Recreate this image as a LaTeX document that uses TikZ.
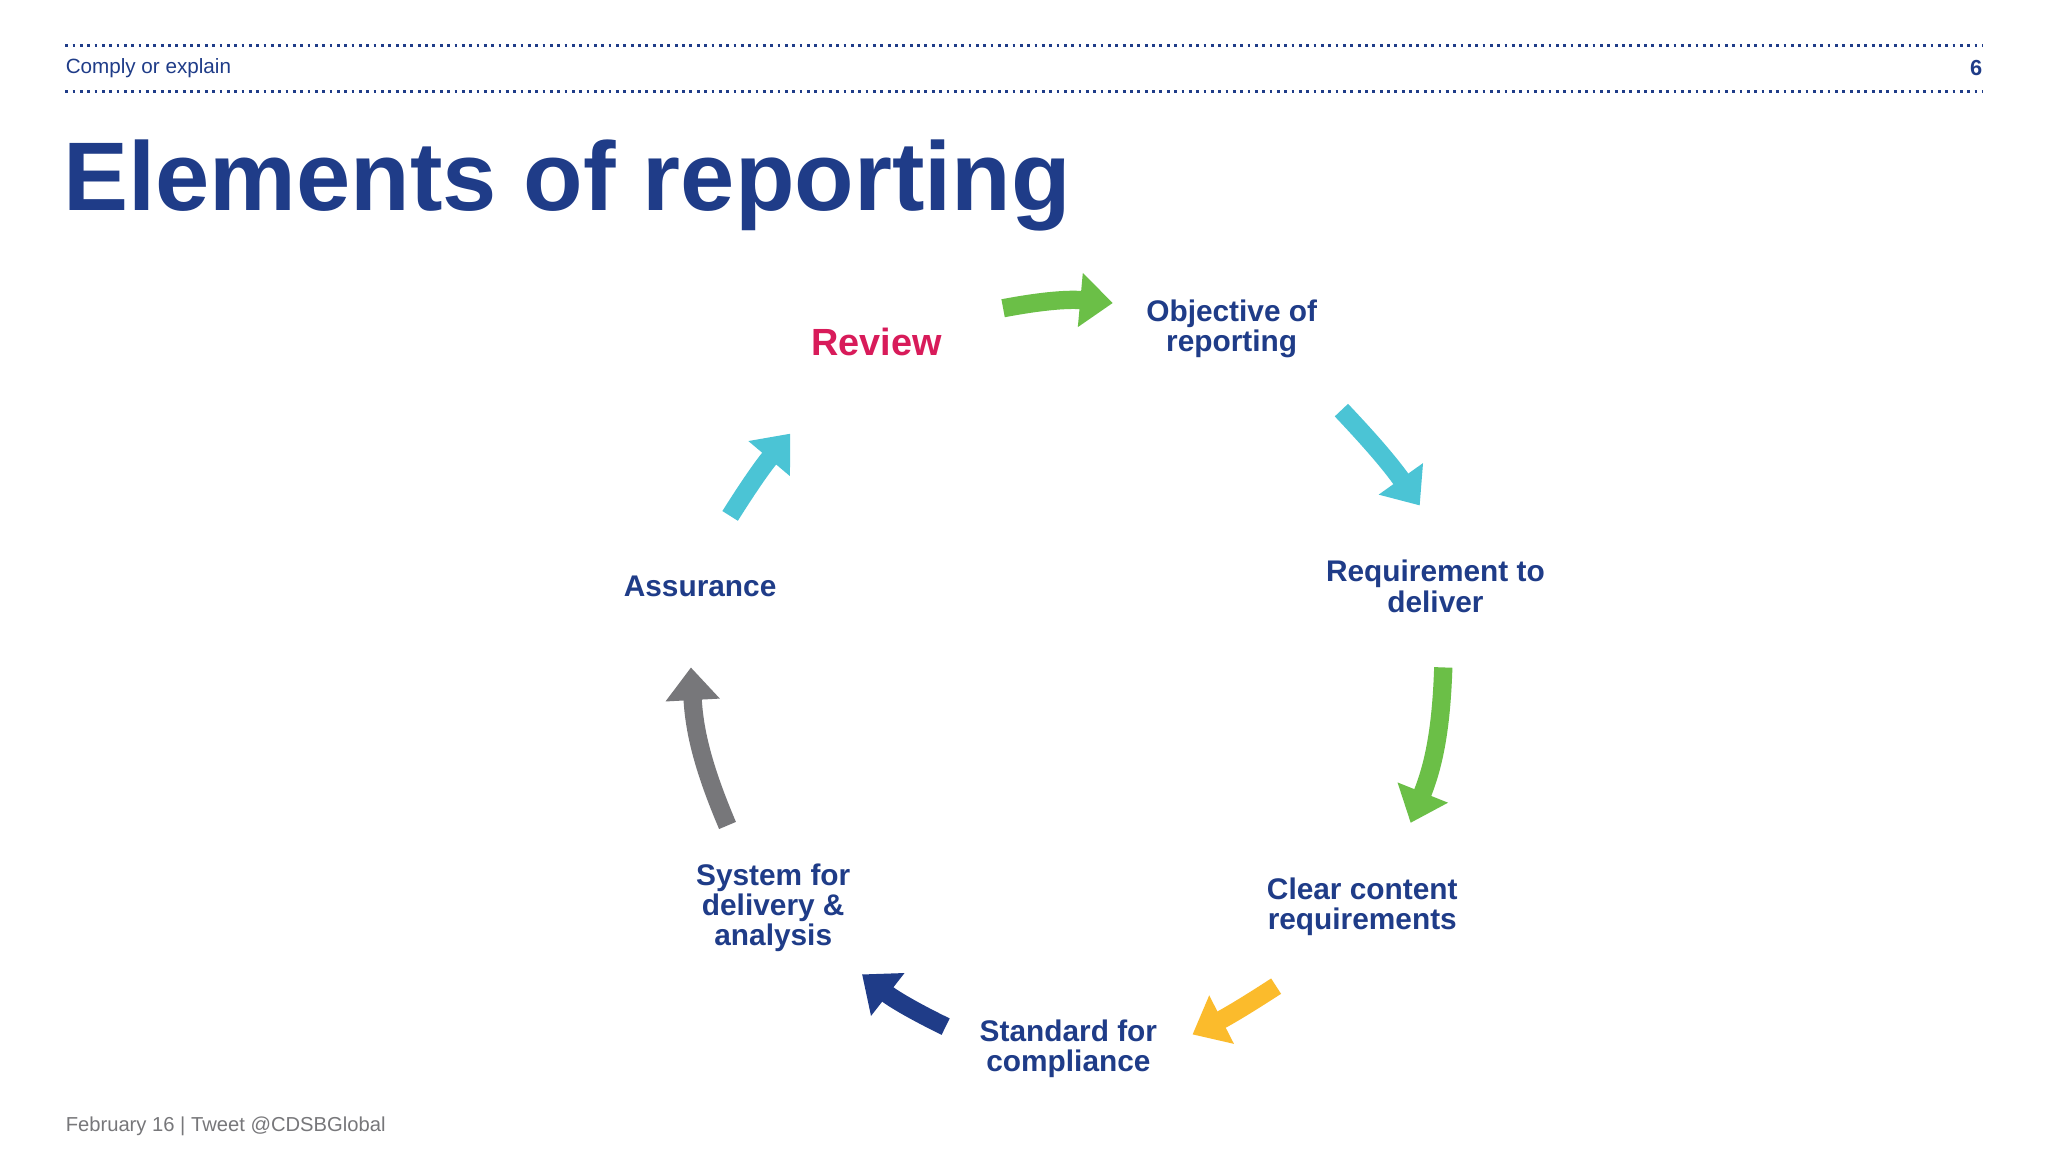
\documentclass[tikz,border=0pt]{standalone}
\usepackage{fontspec}
\setmainfont{Liberation Sans}
\usetikzlibrary{arrows.meta}
\definecolor{navy}{HTML}{1F3C88}
\definecolor{cgreen}{HTML}{6BBF47}
\definecolor{ccyan}{HTML}{4BC4D5}
\definecolor{cyellow}{HTML}{FBBB2C}
\definecolor{cgray}{HTML}{77777A}
\definecolor{crim}{HTML}{D81B5A}
\tikzset{
 lbl/.style={text=navy,font=\fontsize{13}{13.2}\selectfont\bfseries,align=center},
 cyc/.style={line width=0.28cm,-{Triangle[width=0.8cm,length=0.5cm]}},
}
\begin{document}
\begin{tikzpicture}[x=0.02cm,y=-0.02cm]
\useasboundingbox (0,0) rectangle (1568,882);
\fill[white] (0,0) rectangle (1568,882);
\coordinate (l1a) at (50,35); \coordinate (l1b) at (1518,35);
\coordinate (l2a) at (50,70); \coordinate (l2b) at (1518,70);
\draw[navy,line width=1.2pt,dotted] (l1a) -- (l1b);
\draw[navy,line width=1.2pt,dotted] (l2a) -- (l2b);
\node[anchor=west,text=navy,font=\fontsize{9}{10}\selectfont,inner sep=0] (hdr) at (50,52) {Comply or explain};
\node[anchor=east,text=navy,font=\fontsize{9.5}{10}\selectfont\bfseries,inner sep=0] (pg) at (1518,52) {6};
\node[anchor=west,text=navy,font=\fontsize{42.5}{44}\selectfont\bfseries,inner sep=0] (title) at (48,142) {Elements of reporting};
\node[anchor=west,text=cgray,font=\fontsize{8.8}{10}\selectfont,inner sep=0] (ftr) at (50,862) {February 16 | Tweet @CDSBGlobal};

\node[text=crim,font=\fontsize{16.5}{17}\selectfont\bfseries] (rev) at (671,262) {Review};
\node[lbl] (obj) at (943,252) {Objective of\\reporting};
\node[lbl] (req) at (1099,449) {Requirement to\\deliver};
\node[lbl] (clr) at (1043,694) {Clear content\\requirements};
\node[lbl] (std) at (818,803) {Standard for\\compliance};
\node[lbl] (sys) at (592,695) {System for\\delivery \&\\analysis};
\node[lbl] (ass) at (536,449) {Assurance};

\coordinate (a1s) at (768,236); \coordinate (a1e) at (852,232);
\coordinate (a2s) at (1027,314); \coordinate (a2e) at (1087,387);
\coordinate (a3s) at (1105,511); \coordinate (a3e) at (1080,630);
\coordinate (a4s) at (977,755); \coordinate (a4e) at (913,792);
\coordinate (a5s) at (724,786); \coordinate (a5e) at (660,746);
\coordinate (a6s) at (557,632); \coordinate (a6e) at (529,511);
\coordinate (a7s) at (559,395); \coordinate (a7e) at (605,332);
\draw[cyc,cgreen] (a1s) to[bend left=8] (a1e);
\draw[cyc,ccyan] (a2s) to[bend left=4] (a2e);
\draw[cyc,cgreen] (a3s) to[bend left=10] (a3e);
\draw[cyc,cyellow] (a4s) to[bend left=3] (a4e);
\draw[cyc,navy] (a5s) to[bend left=6] (a5e);
\draw[cyc,cgray] (a6s) to[bend left=10] (a6e);
\draw[cyc,ccyan] (a7s) to[bend left=4] (a7e);
\end{tikzpicture}
\end{document}
